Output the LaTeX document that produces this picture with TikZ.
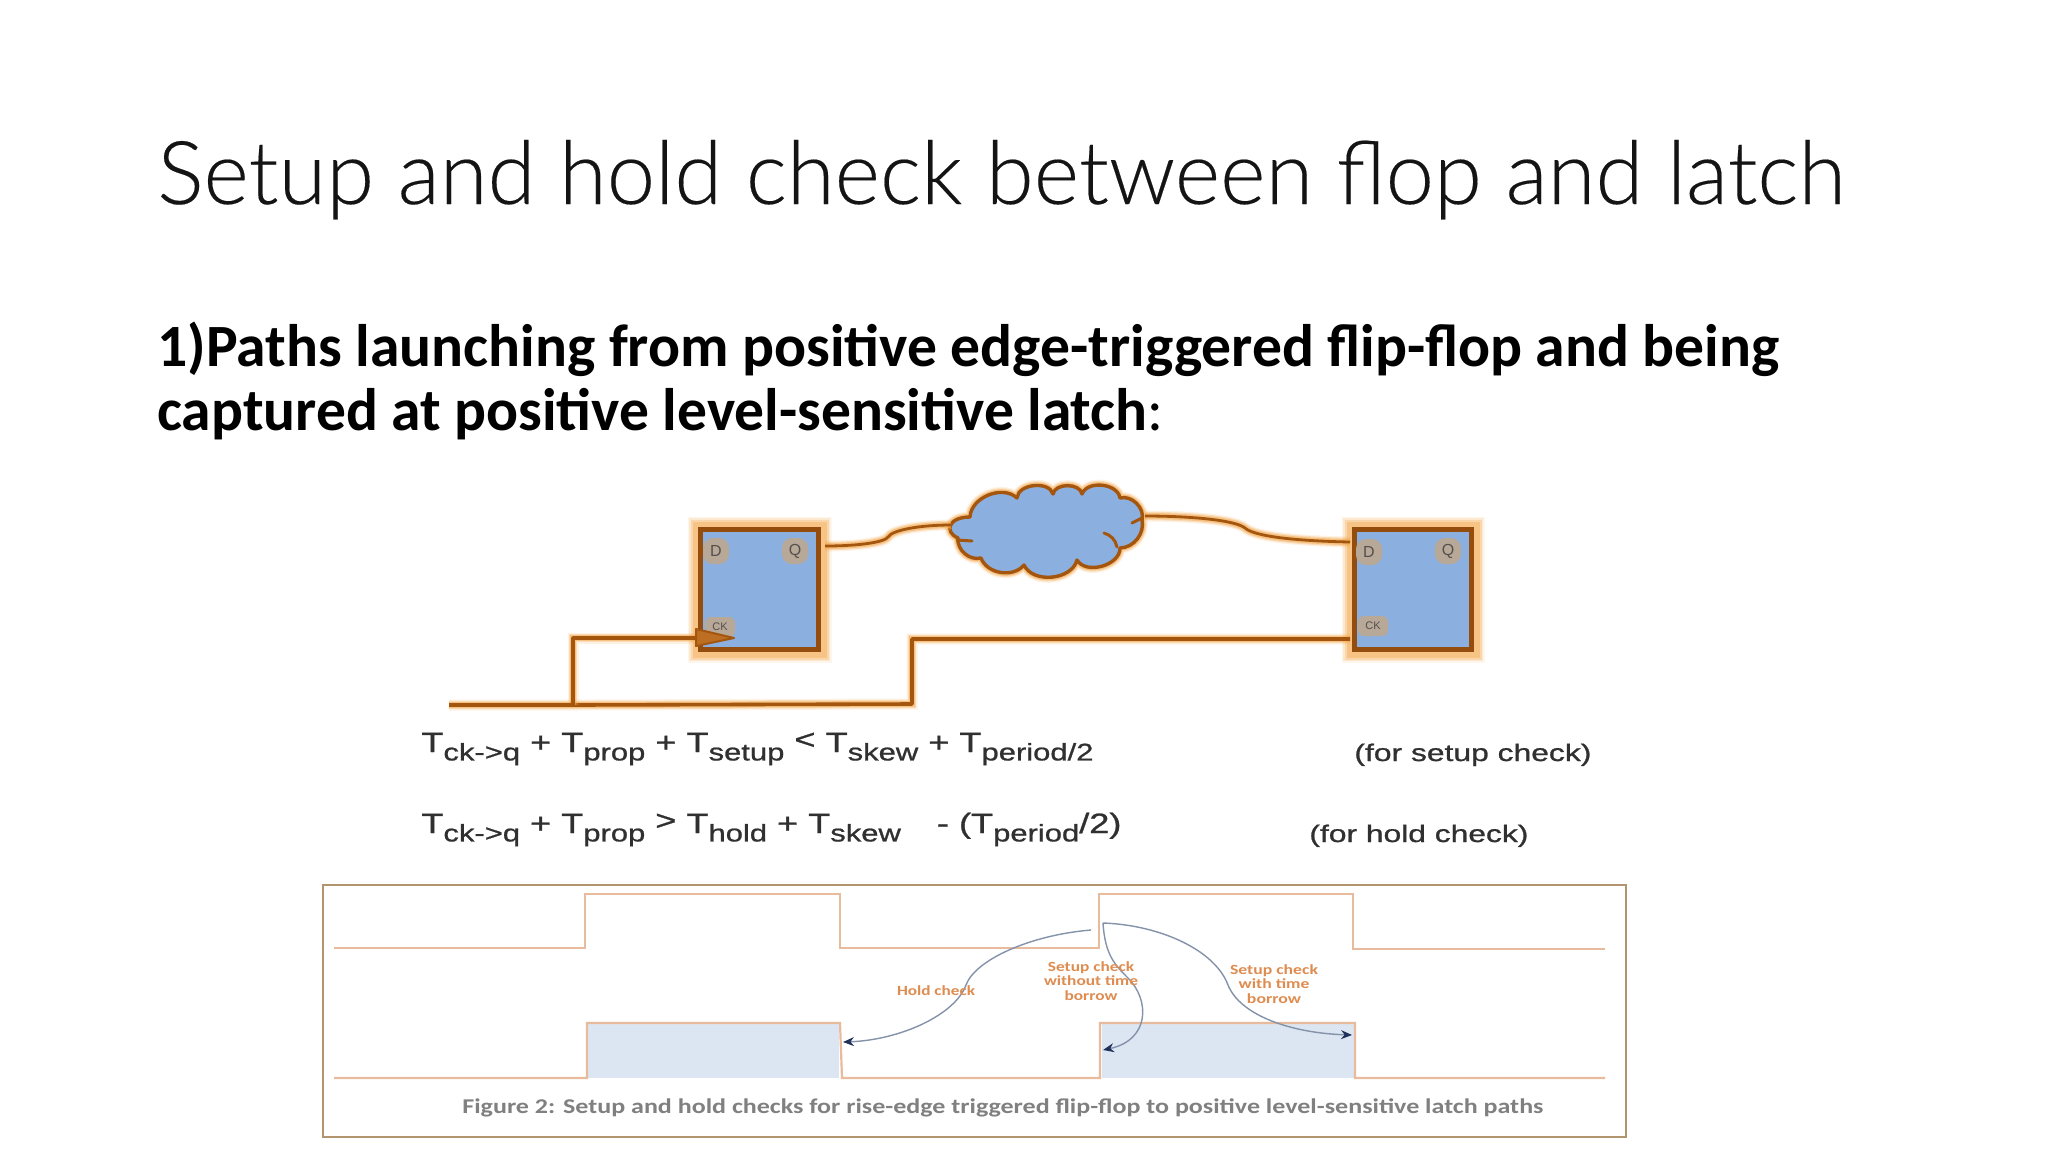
\documentclass[tikz,border=0pt]{standalone}
\usepackage{graphicx}
\usepackage{fontspec}
\setmainfont{Carlito}
\newfontfamily\arialfont{Liberation Sans}
\newfontfamily\eqfont[FakeBold=0.8]{Liberation Sans}
\newfontfamily\titlefont[UprightFont=* Light,FakeBold=0.2]{Lato}
\usetikzlibrary{arrows.meta}
\definecolor{wirecol}{HTML}{A4560F}
\definecolor{halocol}{HTML}{F5A94E}
\definecolor{ffblue}{HTML}{8BAFDF}
\definecolor{pillcol}{HTML}{B7A898}
\definecolor{pilltext}{HTML}{55504E}
\definecolor{wavecol}{HTML}{E8BB9C}
\definecolor{framecol}{HTML}{B2946F}
\definecolor{latchfill}{HTML}{DCE6F2}
\definecolor{curvecol}{HTML}{8492AA}
\definecolor{tipcol}{HTML}{1F3159}
\definecolor{labelcol}{HTML}{DE8C50}
\definecolor{captioncol}{HTML}{808080}
\definecolor{eqcol}{HTML}{303030}
\definecolor{titlecol}{HTML}{141414}
\newcommand{\Tsb}[1]{T\raisebox{-4.2pt}{\fontsize{12}{13}\selectfont #1}}
\newcommand{\fitw}[2]{\resizebox{#1}{\height}{#2}}
\tikzset{
  x=0.5pt,y=-0.5pt,
  glowwire/.style={line join=round,
    preaction={draw=halocol,line width=5.5pt,opacity=.15},
    preaction={draw=halocol,line width=4.2pt,opacity=.3},
    preaction={draw=halocol,line width=3pt,opacity=.5}},
  wire/.style={glowwire,draw=wirecol,line width=1.8pt},
  thinwire/.style={glowwire,draw=wirecol,line width=1.4pt},
  ffbox/.style={rectangle,draw=wirecol!90!black,fill=ffblue,line width=2.7pt,
    minimum width=59pt,minimum height=60pt,inner sep=0pt,anchor=north west,
    preaction={draw=halocol,line width=13pt,opacity=.1},
    preaction={draw=halocol,line width=11.5pt,opacity=.18},
    preaction={draw=halocol,line width=10pt,opacity=.28},
    preaction={draw=halocol,line width=8pt,opacity=.4}},
  pill/.style={rectangle,rounded corners=5pt,fill=pillcol,text=pilltext,inner sep=0pt,
    font=\arialfont\fontsize{8}{8}\selectfont},
  portd/.style={pill,minimum width=13pt,minimum height=13pt},
  portck/.style={pill,minimum width=15pt,minimum height=10pt,rounded corners=3pt,font=\arialfont\fontsize{5.5}{6}\selectfont},
  clkarrow/.style={fill=wirecol!70!halocol,draw=wirecol,line width=1pt,line join=round},
  frame/.style={draw=framecol,line width=1pt},
  wave/.style={draw=wavecol,line width=1.1pt,line join=miter},
  latch/.style={fill=latchfill,draw=none},
  check/.style={draw=curvecol,line width=.7pt,-{Stealth[length=5.5pt,width=4.5pt,color=tipcol,fill=tipcol]}},
  checklabel/.style={text=labelcol,align=center,inner sep=0pt,
    font=\bfseries\fontsize{7}{7.2}\selectfont},
  eq/.style={anchor=base west,inner sep=0pt,text=eqcol,font=\eqfont\fontsize{14}{16}\selectfont},
  eqnote/.style={anchor=base west,inner sep=0pt,text=eqcol,font=\eqfont\fontsize{12}{14}\selectfont},
  txt/.style={anchor=base west,inner sep=0pt},
}
\begin{document}
\begin{tikzpicture}
\useasboundingbox[fill=white] (0,0) rectangle (2048,1152);

% Texts
\node[txt,text=titlecol,font=\titlefont\fontsize{44}{50}\selectfont] (title) at (157,204) {\fitw{844pt}{Setup and hold check between flop and latch}};
\node[txt,text=black,font=\bfseries\fontsize{30}{32}\selectfont] (head1) at (157,366) {\fitw{811pt}{1)Paths launching from positive edge-triggered flip-flop and being}};
\node[txt,text=black,font=\fontsize{30}{32}\selectfont] (head2) at (157,430) {\fitw{503pt}{\bfseries captured at positive level-sensitive latch\mdseries:}};

% Clock wires
\coordinate (clkin) at (449,705);
\coordinate (clkb) at (573,705);
\coordinate (clka) at (573,638);
\coordinate (clkc) at (912,704);
\coordinate (clkd) at (912,639);

% Flops
\node[ffbox] (ffa) at (698,527) {};
\node[ffbox,minimum width=58.5pt] (ffb) at (1352,527) {};
\node[portd] (da) at (716,551) {D};
\node[portd] (qa) at (795,551) {Q};
\node[portck] (cka) at (720,627) {CK};
\node[portd] (db) at (1369,552) {D};
\node[portd] (qb) at (1448,551) {Q};
\node[portck] (ckb) at (1373,626) {CK};

\coordinate (ckapin) at (697,638);
\coordinate (ckbpin) at (1350,639);
\draw[wire] (clkin) -- (clkb) -- (clkc) -- (clkd) -- (ckbpin);
\draw[wire] (clkb) -- (clka) -- (ckapin);
\draw[draw=wirecol,line width=2.3pt] (475,705) -- (clkb);
\coordinate (tipa) at (734,638);
\draw[clkarrow] (696,629) -- (tipa) -- (696,646) -- cycle;

% Cloud
\path[wire,fill=ffblue,line width=1.7pt] (958,538)
  .. controls (944,532) and (948,517) .. (970,517)
  to[bend left=65] (1017,498)
  to[bend left=80] (1053,494)
  to[bend left=80] (1082,494)
  to[bend left=75] (1120,498)
  to[bend left=60] (1142,520)
  to[bend left=50] (1120,548)
  to[bend left=75] (1077,560)
  to[bend left=70] (1024,565)
  to[bend left=60] (981,558)
  to[bend left=55] cycle;
\draw[draw=wirecol,line width=1.5pt,line cap=round] (1104,533) to[bend left=30] (1117,547);
\draw[draw=wirecol,line width=1.5pt,line cap=round] (1132,523) -- (1142,518);
\draw[draw=wirecol,line width=1.5pt,line cap=round] (957,540) -- (972,541);
\coordinate (cloudw) at (951,525);
\coordinate (cloude) at (1145,516);
\coordinate (qaout) at (825,546);
\coordinate (dbin) at (1350,542);
\draw[thinwire] (qaout) .. controls (860,546) and (885,542) .. (888,537) .. controls (892,530) and (920,525) .. (cloudw);
\draw[thinwire] (cloude) .. controls (1190,516) and (1235,520) .. (1245,528) .. controls (1255,537) and (1300,541) .. (dbin);

% Equations
\node[eq] (eq1) at (421,752) {\fitw{336pt}{\Tsb{ck->q} + \Tsb{prop} + \Tsb{setup} \raisebox{1.5pt}{<} \Tsb{skew} + \Tsb{period/2}}};
\node[eq] (eq2) at (421,833) {\fitw{350pt}{\Tsb{ck->q} + \Tsb{prop} \raisebox{1.5pt}{>} \Tsb{hold} + \Tsb{skew}\quad - (\Tsb{period}/2)}};
\node[eqnote] (eqs) at (1354,761) {\fitw{118.5pt}{(for setup check)}};
\node[eqnote] (eqh) at (1309,842) {\fitw{109.5pt}{(for hold check)}};

% Figure frame
\draw[frame] (323,885) rectangle (1626,1137);

% Waveforms
\fill[latch] (588,1023) rectangle (839,1078);
\fill[latch] (1102,1023) rectangle (1355,1078);
\draw[wave] (334,948) -- (585,948) -- (585,894) -- (840,894) -- (840,948) -- (1099,948) -- (1099,894) -- (1353,894) -- (1353,949) -- (1605,949);
\draw[wave] (334,1078) -- (587,1078) -- (587,1023) -- (840,1023) -- (842,1078) -- (1100,1078) -- (1100,1023) -- (1355,1023) -- (1355,1078) -- (1605,1078);

% Check curves
\coordinate (launch) at (1103,923);
\coordinate (holdstart) at (1091,930);
\coordinate (holdend) at (843,1042);
\coordinate (setupa) at (1103,1050);
\coordinate (setupb) at (1352,1035);
\draw[check] (holdstart) .. controls (1030,935) and (975,960) .. (966,985) .. controls (955,1015) and (900,1040) .. (holdend);
\draw[check] (launch) .. controls (1105,955) and (1115,965) .. (1128,978) .. controls (1150,1000) and (1150,1040) .. (setupa);
\draw[check] (launch) .. controls (1160,925) and (1215,950) .. (1228,985) .. controls (1240,1015) and (1290,1033) .. (setupb);

% Check labels
\node[checklabel] (lhold) at (936,991) {\fitw{39pt}{Hold check}};
\node[checklabel] (lwithout) at (1091,983) {\fitw{47pt}{\begin{tabular}{@{}c@{}}Setup check\\without time\\borrow\end{tabular}}};
\node[checklabel] (lwith) at (1274,986) {\fitw{44pt}{\begin{tabular}{@{}c@{}}Setup check\\with time\\borrow\end{tabular}}};

% Caption
\node[txt,text=captioncol,font=\bfseries\fontsize{10.5}{12}\selectfont] (caption) at (462,1113) {\fitw{540.5pt}{Figure 2: Setup and hold checks for rise-edge triggered flip-flop to positive level-sensitive latch paths}};
\end{tikzpicture}
\end{document}
